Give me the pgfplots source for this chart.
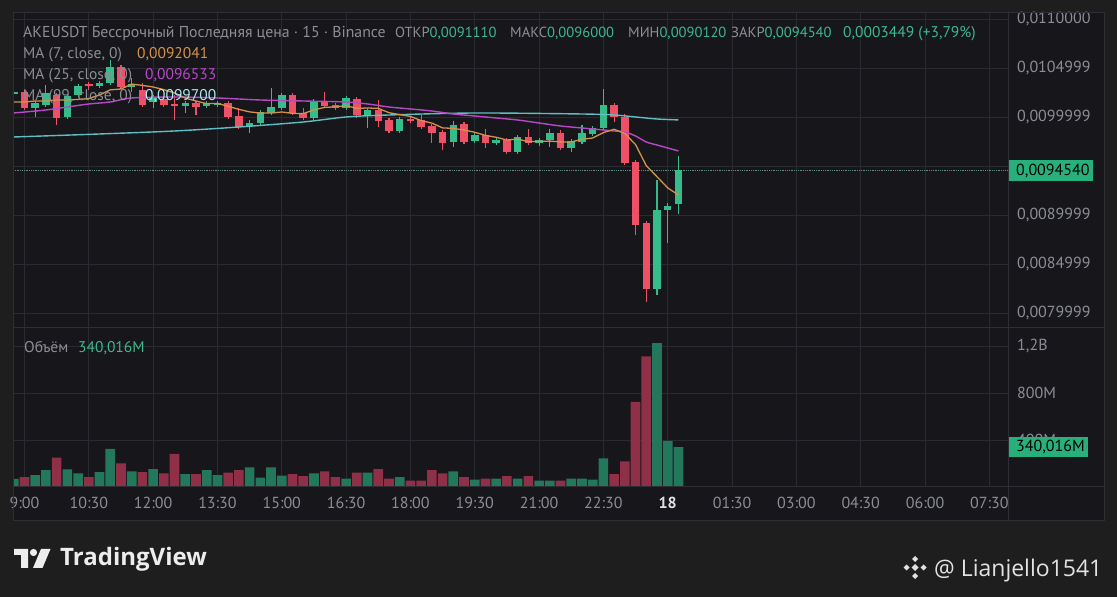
\documentclass[border=0pt]{standalone}
\usepackage{fontspec}
\setmainfont{PT Sans}
\newfontfamily\osans{Open Sans}
\usepackage{pgfplots}
\pgfplotsset{compat=1.18}
\usepackage{pgfplotstable}
\definecolor{outerbg}{HTML}{1E1E1F}
\definecolor{chartbg}{HTML}{16161B}
\definecolor{gridc}{HTML}{2A2A31}
\definecolor{framec}{HTML}{2E2E35}
\definecolor{txtgray}{HTML}{8C8E95}
\definecolor{cgreen}{HTML}{36BC8B}
\definecolor{cred}{HTML}{EE5166}
\definecolor{vgreen}{HTML}{23785B}
\definecolor{vred}{HTML}{8F3048}
\definecolor{ma7}{HTML}{D4924A}
\definecolor{ma25}{HTML}{B848C8}
\definecolor{ma99}{HTML}{5FBEC4}
\definecolor{ma99txt}{HTML}{A9E8F0}
\definecolor{valgreen}{HTML}{3DB88B}
\definecolor{boxgreen}{HTML}{28B07C}
\definecolor{dotc}{HTML}{5C8F80}
\definecolor{logoc}{HTML}{EDEDED}

% green candles: index, open, high, low, close, volume (M)
\pgfplotstableread{
i o h l c v
-1 0.0102347 0.0102857 0.0102143 0.0102551 69
1 0.0100919 0.0101633 0.0100000 0.0101429 100
2 0.0101225 0.0103266 0.0101021 0.0102449 143
4 0.0100000 0.0102347 0.0099796 0.0102143 149
5 0.0102245 0.0103368 0.0102041 0.0103164 115
7 0.0103164 0.0103674 0.0102959 0.0103470 126
8 0.0103470 0.0105817 0.0103266 0.0105102 324
10 0.0103062 0.0103980 0.0102551 0.0103368 132
12 0.0101531 0.0102245 0.0100919 0.0102041 152
15 0.0101123 0.0101633 0.0100408 0.0101429 109
17 0.0101123 0.0101633 0.0100919 0.0101429 143
18 0.0101225 0.0101633 0.0101021 0.0101429 100
21 0.0099082 0.0099694 0.0098368 0.0099388 166
22 0.0099388 0.0100715 0.0099184 0.0100511 80
23 0.0100408 0.0102959 0.0100204 0.0101021 166
24 0.0100919 0.0102449 0.0100715 0.0102245 97
27 0.0099898 0.0101837 0.0099694 0.0101633 115
30 0.0100919 0.0102143 0.0100715 0.0101939 72
32 0.0100204 0.0100919 0.0098878 0.0100715 123
35 0.0098572 0.0100000 0.0098368 0.0099796 83
40 0.0097449 0.0099592 0.0096939 0.0099184 132
42 0.0097551 0.0098368 0.0097347 0.0098164 63
44 0.0097347 0.0097857 0.0097143 0.0097653 72
46 0.0096429 0.0098164 0.0096225 0.0097960 72
48 0.0097347 0.0097857 0.0097041 0.0097653 54
49 0.0097653 0.0098776 0.0096939 0.0098368 54
51 0.0096837 0.0097755 0.0096429 0.0097551 72
52 0.0097449 0.0099184 0.0097245 0.0098368 72
53 0.0098266 0.0099082 0.0098062 0.0098878 63
54 0.0098878 0.0102857 0.0098674 0.0101225 244
59 0.0082449 0.0093572 0.0081837 0.0090511 1224
60 0.0090511 0.0091225 0.0087143 0.0090919 390
61 0.0091110 0.0096000 0.0090120 0.0094540 340.016
}\greenT

% red candles
\pgfplotstableread{
i o h l c v
0 0.0102551 0.0102755 0.0100715 0.0100919 83
3 0.0102245 0.0102449 0.0099184 0.0099898 249
6 0.0103368 0.0103572 0.0102755 0.0103164 83
9 0.0105102 0.0105306 0.0102857 0.0103062 201
11 0.0102755 0.0103470 0.0101021 0.0101225 126
13 0.0101837 0.0102041 0.0101021 0.0101225 115
14 0.0101327 0.0102245 0.0099694 0.0101123 281
16 0.0101429 0.0101633 0.0100204 0.0101021 109
19 0.0101429 0.0101633 0.0099796 0.0100000 123
20 0.0100102 0.0100919 0.0098776 0.0098980 143
25 0.0102245 0.0102449 0.0100204 0.0100408 109
26 0.0100408 0.0100919 0.0099694 0.0099898 92
28 0.0101531 0.0102551 0.0100919 0.0101123 132
29 0.0101225 0.0101429 0.0100715 0.0100919 83
31 0.0101837 0.0102041 0.0099898 0.0100204 123
33 0.0100715 0.0101735 0.0098980 0.0099592 152
34 0.0099694 0.0099898 0.0098368 0.0098572 72
36 0.0099796 0.0100000 0.0099388 0.0099592 54
37 0.0099694 0.0100204 0.0098776 0.0098980 54
38 0.0099082 0.0099286 0.0097347 0.0098368 143
39 0.0098470 0.0098674 0.0096633 0.0097347 115
41 0.0099286 0.0099490 0.0097245 0.0097449 83
43 0.0098164 0.0098776 0.0096837 0.0097347 72
45 0.0097653 0.0097857 0.0096225 0.0096429 92
47 0.0097960 0.0098776 0.0097143 0.0097347 92
50 0.0098368 0.0098674 0.0096633 0.0096837 54
55 0.0101225 0.0101429 0.0099490 0.0100000 109
56 0.0100000 0.0100306 0.0095102 0.0095306 218
57 0.0095409 0.0095613 0.0087960 0.0088980 725
58 0.0089184 0.0089388 0.0081123 0.0082449 1112
}\redT

\pgfplotstableread{
i m
-1 0.0101531
0 0.0101531
1 0.0101633
2 0.0101633
3 0.0101735
4 0.0101735
5 0.0101796
6 0.0101878
7 0.0102245
8 0.0102766
9 0.0102857
10 0.0103357
11 0.0103225
12 0.0103062
13 0.0102786
14 0.0102449
15 0.0101929
16 0.0101633
17 0.0101357
18 0.0101388
19 0.0101092
20 0.0100776
21 0.0100521
22 0.0100398
23 0.0100398
24 0.0100511
25 0.0100368
26 0.0100347
27 0.0100725
28 0.0100980
29 0.0101031
30 0.0101163
31 0.0100878
32 0.0100919
33 0.0100878
34 0.0100439
35 0.0100245
36 0.0100061
37 0.0099633
38 0.0099378
39 0.0098888
40 0.0098837
41 0.0098674
42 0.0098439
43 0.0098123
44 0.0097929
45 0.0097653
46 0.0097745
47 0.0097480
48 0.0097511
49 0.0097541
50 0.0097459
51 0.0097449
52 0.0097725
53 0.0097857
54 0.0098408
55 0.0098745
56 0.0098306
57 0.0097184
58 0.0095031
59 0.0093908
60 0.0092765
61 0.0092041
}\maSeven

\pgfplotstableread{
i m
-1 0.0100408
2 0.0100715
4 0.0101021
6 0.0101327
8 0.0101531
10 0.0101939
14 0.0102041
18 0.0101939
22 0.0101735
26 0.0101633
30 0.0101531
32 0.0101327
34 0.0101021
36 0.0100817
38 0.0100613
40 0.0100306
42 0.0100102
44 0.0099898
46 0.0099694
48 0.0099388
50 0.0099082
52 0.0098878
54 0.0098674
55 0.0098572
56 0.0098470
57 0.0098062
58 0.0097449
59 0.0097143
60 0.0096837
61 0.0096533
}\maTwentyFive

\pgfplotstableread{
i m
-1 0.0097960
7 0.0098266
14 0.0098572
20 0.0098980
26 0.0099490
30 0.0100000
34 0.0100204
42 0.0100408
52 0.0100306
55 0.0100204
57 0.0100000
59 0.0099796
61 0.0099700
}\maNinetyNine

\begin{document}
\begin{tikzpicture}[x=1pt,y=1pt]
\useasboundingbox (0pt,0pt) rectangle (1117pt,597pt);
\fill[outerbg] (0pt,0pt) rectangle (1117pt,597pt);
\fill[chartbg] (13pt,76pt) rectangle (1104pt,584pt);

% ---------- price panel ----------
\begin{axis}[at={(13pt,269pt)}, anchor=south west,
  width=995pt, height=315pt, scale only axis,
  xmin=-1.07, xmax=91.74, ymin=0.0078469, ymax=0.0110612,
  scaled y ticks=false,
  axis line style={draw=none}, major tick length=0pt,
  xtick={0,6,...,90}, xticklabels={},
  ytick={0.008,0.0085,0.009,0.0095,0.01,0.0105,0.011},
  yticklabels={{0,0079999},{0,0084999},{0,0089999},{},{0,0099999},{0,0104999},{0,0110000}},
  yticklabel pos=right,
  yticklabel style={anchor=west, inner xsep=0pt, xshift=9pt, font=\fontsize{16}{19}\selectfont, text=txtgray},
  grid=major, major grid style={gridc, line width=0.8pt},
  extra y ticks={0.009454}, extra y tick labels={\kern5pt0{,}0094540},
  extra y tick style={grid=major, major grid style={dotc, densely dotted, line width=1pt},
    yticklabel style={fill=boxgreen, text=black, inner xsep=3pt, xshift=-9pt, minimum height=20pt}},
]
% wicks
\addplot[draw=none, mark=none, forget plot, error bars/.cd, y dir=plus, y explicit, error mark=none,
  error bar style={draw=cgreen, line width=1.1pt}]
  table[x=i, y=l, y error expr=\thisrow{h}-\thisrow{l}] {\greenT};
\addplot[draw=none, mark=none, forget plot, error bars/.cd, y dir=plus, y explicit, error mark=none,
  error bar style={draw=cred, line width=1.1pt}]
  table[x=i, y=l, y error expr=\thisrow{h}-\thisrow{l}] {\redT};
% bodies
\addplot[draw=none, mark=none, forget plot, error bars/.cd, y dir=plus, y explicit, error mark=none,
  error bar style={draw=cgreen, line width=7.5pt}]
  table[x=i, y=o, y error expr=\thisrow{c}-\thisrow{o}] {\greenT};
\addplot[draw=none, mark=none, forget plot, error bars/.cd, y dir=plus, y explicit, error mark=none,
  error bar style={draw=cred, line width=7.5pt}]
  table[x=i, y=c, y error expr=\thisrow{o}-\thisrow{c}] {\redT};
% moving averages
\addplot[ma99, line width=1.4pt, mark=none, smooth] table[x=i, y=m] {\maNinetyNine};
\addplot[ma25, line width=1.4pt, mark=none, smooth] table[x=i, y=m] {\maTwentyFive};
\addplot[ma7, line width=1.3pt, mark=none] table[x=i, y=m] {\maSeven};
\end{axis}

% ---------- volume panel ----------
\begin{axis}[at={(13pt,110pt)}, anchor=south west,
  width=995pt, height=159pt, scale only axis,
  xmin=-1.07, xmax=91.74, ymin=0, ymax=1353,
  scaled y ticks=false,
  axis line style={draw=none}, major tick length=0pt,
  xtick={0,6,...,90},
  xticklabels={9:00,10:30,12:00,13:30,15:00,16:30,18:00,19:30,21:00,22:30,{\bfseries\color{white!78!gray}18},01:30,03:00,04:30,06:00,07:30},
  xticklabel style={font=\fontsize{16}{19}\selectfont, text=txtgray, yshift=-7pt},
  ytick={400,800,1200}, yticklabels={400M,800M,{1,2B}},
  yticklabel pos=right,
  yticklabel style={anchor=west, inner xsep=0pt, xshift=9pt, font=\fontsize{16}{19}\selectfont, text=txtgray},
  grid=major, major grid style={gridc, line width=0.8pt},
  extra y ticks={340.016}, extra y tick labels={\kern5pt340{,}016M},
  extra y tick style={grid=none,
    yticklabel style={fill=boxgreen, text=black, inner xsep=3pt, xshift=-9pt, minimum height=20pt}},
]
\addplot[ybar, bar shift=0pt, bar width=0.9, fill=vgreen, draw=none] table[x=i, y=v] {\greenT};
\addplot[ybar, bar shift=0pt, bar width=0.9, fill=vred, draw=none] table[x=i, y=v] {\redT};
\end{axis}

% frame and separators
\draw[framec, line width=1pt] (13pt,76pt) rectangle (1104pt,584pt);
\draw[framec, line width=1pt] (1008pt,76pt) -- (1008pt,584pt);
\draw[framec, line width=1pt] (13pt,269pt) -- (1104pt,269pt);
\draw[framec, line width=1pt] (13pt,110pt) -- (1104pt,110pt);

% legend texts
\begin{scope}[every node/.style={anchor=base west, inner sep=0pt, font=\fontsize{15.5}{19}\selectfont}]
\node[text=txtgray, font=\fontsize{15.8}{19}\selectfont] at (23pt,559.5pt) {AKEUSDT Бессрочный Последняя цена · 15 · Binance};
\node[font=\fontsize{14.6}{19}\selectfont] at (395pt,559.5pt) {\color{txtgray}ОТКР\color{valgreen}0,0091110};
\node[font=\fontsize{14.6}{19}\selectfont] at (510pt,559.5pt) {\color{txtgray}МАКС\color{valgreen}0,0096000};
\node[font=\fontsize{14.6}{19}\selectfont] at (628pt,559.5pt) {\color{txtgray}МИН\color{valgreen}0,0090120};
\node[font=\fontsize{14.6}{19}\selectfont] at (731pt,559.5pt) {\color{txtgray}ЗАКР\color{valgreen}0,0094540};
\node[text=valgreen] at (843pt,559.5pt) {0,0003449 (+3,79\%)};
\node[text=txtgray] at (23pt,538.5pt) {MA (7, close, 0)};
\node[text=ma7] at (137pt,538.5pt) {0,0092041};
\node[text=txtgray] at (23pt,517.5pt) {MA (25, close, 0)};
\node[text=ma25] at (145pt,517.5pt) {0,0096533};
\node[text=txtgray] at (23pt,496pt) {MA (99, close, 0)};
\node[text=ma99txt] at (145pt,496pt) {0,0099700};
\node[text=txtgray] at (24pt,244pt) {Объём};
\node[text=valgreen] at (78pt,244pt) {340,016M};
\end{scope}

% TradingView logo
\fill[logoc] (14pt,48pt) -- (28pt,48pt) -- (28pt,29pt) -- (21pt,29pt) -- (21pt,42pt) -- (14pt,42pt) -- cycle;
\fill[logoc] (33.5pt,44.5pt) circle (3.6pt);
\fill[logoc] (41pt,48pt) -- (50.5pt,48pt) -- (42.5pt,29pt) -- (33pt,29pt) -- cycle;
\node[anchor=base west, inner sep=0pt, text=logoc, font=\osans\bfseries\fontsize{24}{28}\selectfont] at (60pt,31pt) {TradingView};

% watermark
\begin{scope}[fill=logoc!90!gray]
\fill (915pt,26pt) -- (918.5pt,29.5pt) -- (915pt,33pt) -- (911.5pt,29.5pt) -- cycle;
\fill (915pt,35pt) -- (918pt,38pt) -- (915pt,41pt) -- (912pt,38pt) -- cycle;
\fill (915pt,18pt) -- (918pt,21pt) -- (915pt,24pt) -- (912pt,21pt) -- cycle;
\fill (906.5pt,26.5pt) -- (909.5pt,29.5pt) -- (906.5pt,32.5pt) -- (903.5pt,29.5pt) -- cycle;
\fill (923.5pt,26.5pt) -- (926.5pt,29.5pt) -- (923.5pt,32.5pt) -- (920.5pt,29.5pt) -- cycle;
\end{scope}
\node[anchor=base west, inner sep=0pt, text=logoc!90!gray, font=\osans\fontsize{23}{27}\selectfont] at (934pt,20pt) {@ Lianjello1541};
\end{tikzpicture}
\end{document}
